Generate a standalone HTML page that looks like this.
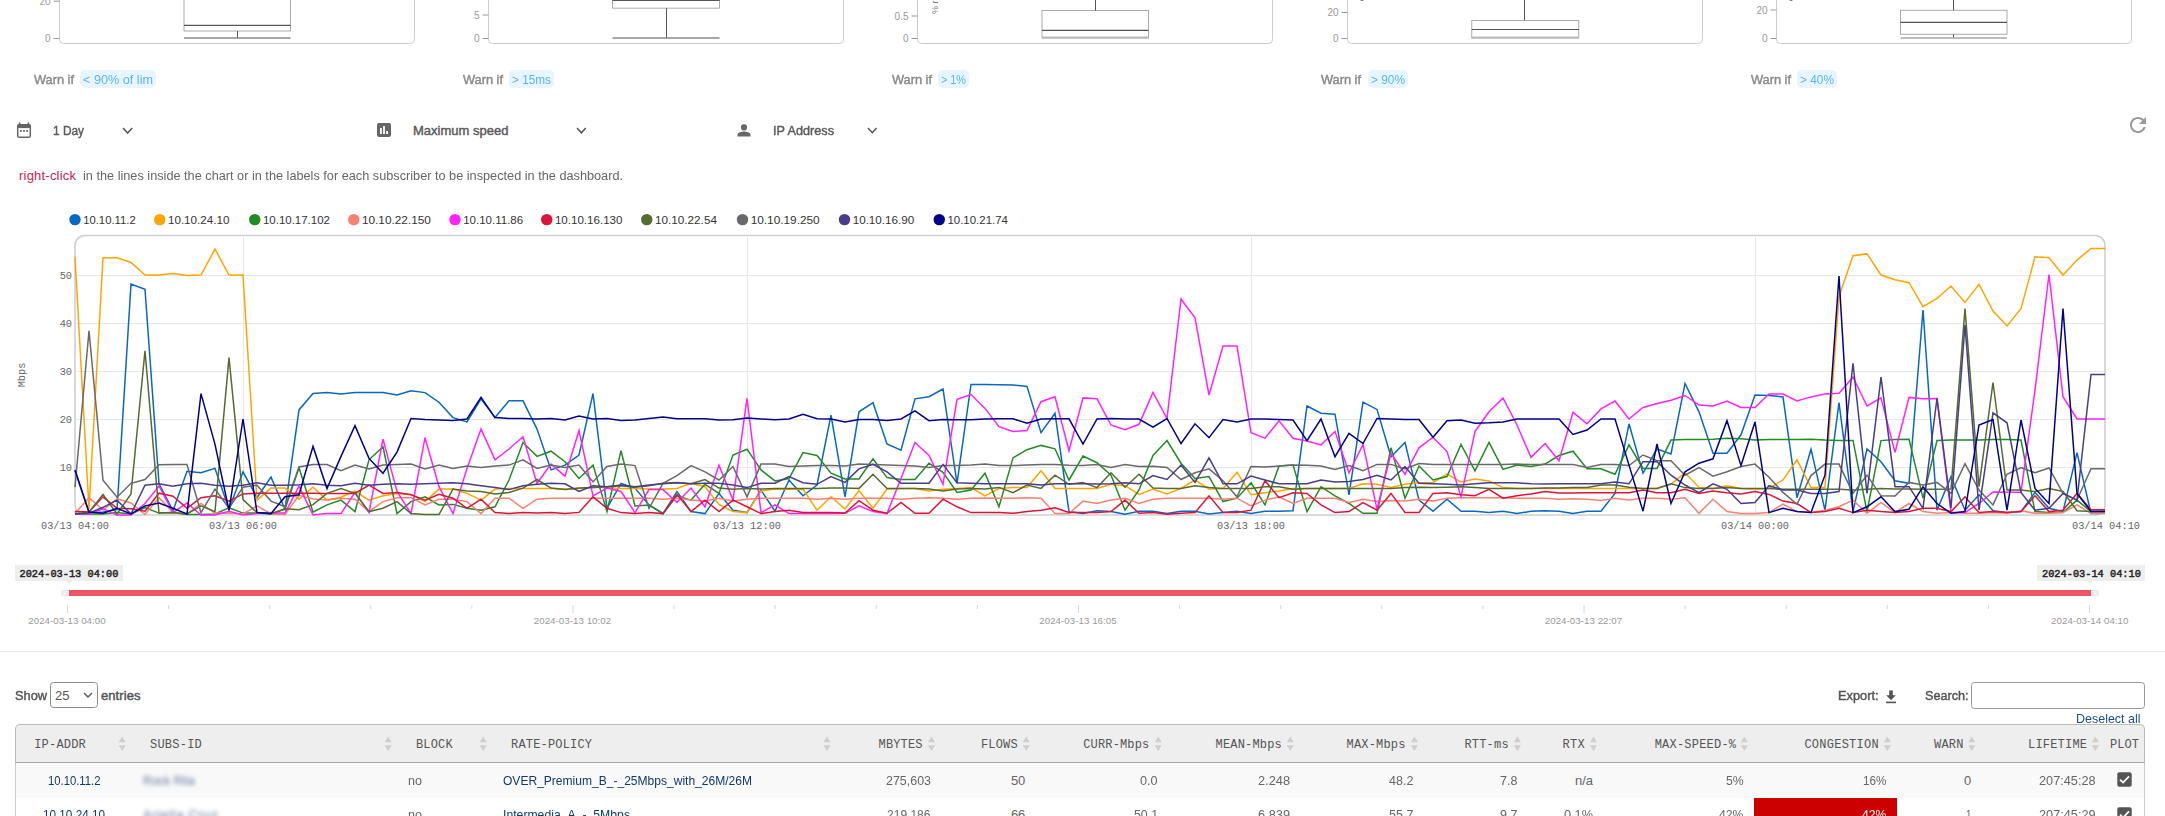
<!DOCTYPE html>
<html lang="en"><head><meta charset="utf-8"><title>Subscribers dashboard</title>
<style>
html,body{margin:0;padding:0;background:#fff;}
body{width:2165px;height:816px;overflow:hidden;position:relative;font-family:"Liberation Sans",sans-serif;font-size:13px;color:#555;}
.t{position:absolute;white-space:nowrap;display:block;transform-origin:0 0;}
.abs{position:absolute;}
svg{position:absolute;overflow:visible;}
.badge{position:absolute;background:#e9f5fe;border-radius:5px;}
.th{position:absolute;}
</style></head><body>

<section id="kpis">
<svg width="2165" height="60" style="left:0;top:0" viewBox="0 0 2165 60">
<path d="M59.5 -2 V39.5 a4 4 0 0 0 4 4 H410.5 a4 4 0 0 0 4 -4 V-2" fill="none" stroke="#ccc" stroke-width="1"/>
<path d="M488.5 -2 V39.5 a4 4 0 0 0 4 4 H839.5 a4 4 0 0 0 4 -4 V-2" fill="none" stroke="#ccc" stroke-width="1"/>
<path d="M917.5 -2 V39.5 a4 4 0 0 0 4 4 H1268.5 a4 4 0 0 0 4 -4 V-2" fill="none" stroke="#ccc" stroke-width="1"/>
<path d="M1347.5 -2 V39.5 a4 4 0 0 0 4 4 H1698.5 a4 4 0 0 0 4 -4 V-2" fill="none" stroke="#ccc" stroke-width="1"/>
<path d="M1776.5 -2 V39.5 a4 4 0 0 0 4 4 H2127.5 a4 4 0 0 0 4 -4 V-2" fill="none" stroke="#ccc" stroke-width="1"/>
<line x1="53.5" x2="59.5" y1="38.5" y2="38.5" stroke="#999" stroke-width="1"/>
<text x="50.5" y="42.0" text-anchor="end" font-size="10" fill="#999" font-family="'Liberation Sans', sans-serif">0</text>
<line x1="53.5" x2="59.5" y1="1.2" y2="1.2" stroke="#999" stroke-width="1"/>
<text x="50.5" y="4.7" text-anchor="end" font-size="10" fill="#999" font-family="'Liberation Sans', sans-serif">20</text>
<line x1="482.5" x2="488.5" y1="38.5" y2="38.5" stroke="#999" stroke-width="1"/>
<text x="479.5" y="42.0" text-anchor="end" font-size="10" fill="#999" font-family="'Liberation Sans', sans-serif">0</text>
<line x1="482.5" x2="488.5" y1="15.0" y2="15.0" stroke="#999" stroke-width="1"/>
<text x="479.5" y="18.5" text-anchor="end" font-size="10" fill="#999" font-family="'Liberation Sans', sans-serif">5</text>
<line x1="911.5" x2="917.5" y1="38.5" y2="38.5" stroke="#999" stroke-width="1"/>
<text x="908.5" y="42.0" text-anchor="end" font-size="10" fill="#999" font-family="'Liberation Sans', sans-serif">0</text>
<line x1="911.5" x2="917.5" y1="16.0" y2="16.0" stroke="#999" stroke-width="1"/>
<text x="908.5" y="19.5" text-anchor="end" font-size="10" fill="#999" font-family="'Liberation Sans', sans-serif">0.5</text>
<line x1="1341.5" x2="1347.5" y1="38.5" y2="38.5" stroke="#999" stroke-width="1"/>
<text x="1338.5" y="42.0" text-anchor="end" font-size="10" fill="#999" font-family="'Liberation Sans', sans-serif">0</text>
<line x1="1341.5" x2="1347.5" y1="12.5" y2="12.5" stroke="#999" stroke-width="1"/>
<text x="1338.5" y="16.0" text-anchor="end" font-size="10" fill="#999" font-family="'Liberation Sans', sans-serif">20</text>
<line x1="1770.5" x2="1776.5" y1="38.5" y2="38.5" stroke="#999" stroke-width="1"/>
<text x="1767.5" y="42.0" text-anchor="end" font-size="10" fill="#999" font-family="'Liberation Sans', sans-serif">0</text>
<line x1="1770.5" x2="1776.5" y1="10.0" y2="10.0" stroke="#999" stroke-width="1"/>
<text x="1767.5" y="13.5" text-anchor="end" font-size="10" fill="#999" font-family="'Liberation Sans', sans-serif">20</text>
<path d="M184 -2 V31 H290.5 V-2" fill="none" stroke="#aaa"/><line x1="184" x2="290.5" y1="25.3" y2="25.3" stroke="#555" stroke-width="1.2"/>
<line x1="237.5" x2="237.5" y1="31" y2="38" stroke="#555"/><line x1="184" x2="290.5" y1="38" y2="38" stroke="#888" stroke-width="1.4"/>
<path d="M612.5 -2 V8.2 H719.5 V-2" fill="none" stroke="#aaa"/><line x1="612.5" x2="719.5" y1="0.4" y2="0.4" stroke="#555" stroke-width="1.2"/>
<line x1="666.5" x2="666.5" y1="8.2" y2="38" stroke="#555"/><line x1="612.5" x2="719.5" y1="38" y2="38" stroke="#888" stroke-width="1.4"/>
<rect x="1042" y="10.5" width="106.5" height="27.5" fill="none" stroke="#aaa"/><line x1="1042" x2="1148.5" y1="30.3" y2="30.3" stroke="#555" stroke-width="1.2"/>
<line x1="1095.5" x2="1095.5" y1="-2" y2="10.5" stroke="#555"/><line x1="1042" x2="1148.5" y1="37.4" y2="37.4" stroke="#bbb" stroke-width="2"/>
<text transform="translate(937.5,14) rotate(-90)" font-size="9" fill="#777" font-family="'Liberation Sans', sans-serif">% r</text>
<rect x="1471.75" y="20.5" width="107" height="17.5" fill="none" stroke="#aaa"/><line x1="1471.75" x2="1578.75" y1="29.5" y2="29.5" stroke="#555" stroke-width="1.2"/>
<line x1="1524.5" x2="1524.5" y1="-2" y2="20.5" stroke="#555"/><line x1="1471.75" x2="1578.75" y1="37.4" y2="37.4" stroke="#bbb" stroke-width="2"/>
<circle cx="1362" cy="-1" r="2" fill="#777"/>
<rect x="1900.5" y="10.3" width="106.5" height="24" fill="none" stroke="#aaa"/><line x1="1900.5" x2="2007" y1="22.4" y2="22.4" stroke="#555" stroke-width="1.2"/>
<line x1="1953.5" x2="1953.5" y1="-2" y2="10.3" stroke="#555"/><line x1="1953.5" x2="1953.5" y1="34.3" y2="38" stroke="#555"/><line x1="1900.5" x2="2007" y1="38" y2="38" stroke="#aaa" stroke-width="1.6"/>
<circle cx="1791" cy="-1" r="2" fill="#777"/>
</svg>
<span class="t" style="left:34.00px;top:72.60px;font-size:13px;line-height:13px;color:#8a8a8a;-webkit-text-stroke:0.45px currentColor;transform:scaleX(0.9831);">Warn if</span>
<span class="badge" style="left:80px;top:69.5px;width:76px;height:18.5px"></span>
<span class="t" style="left:83.00px;top:72.60px;font-size:13px;line-height:13px;color:#5ab4f0;transform:scaleX(0.9737);">&lt; 90% of lim</span>
<span class="t" style="left:463.00px;top:72.60px;font-size:13px;line-height:13px;color:#8a8a8a;-webkit-text-stroke:0.45px currentColor;transform:scaleX(0.9831);">Warn if</span>
<span class="badge" style="left:509px;top:69.5px;width:45px;height:18.5px"></span>
<span class="t" style="left:512.00px;top:72.60px;font-size:13px;line-height:13px;color:#5ab4f0;transform:scaleX(0.9071);">&gt; 15ms</span>
<span class="t" style="left:892.00px;top:72.60px;font-size:13px;line-height:13px;color:#8a8a8a;-webkit-text-stroke:0.45px currentColor;transform:scaleX(0.9831);">Warn if</span>
<span class="badge" style="left:938px;top:69.5px;width:31px;height:18.5px"></span>
<span class="t" style="left:941.00px;top:72.60px;font-size:13px;line-height:13px;color:#5ab4f0;transform:scaleX(0.8335);">&gt; 1%</span>
<span class="t" style="left:1321.30px;top:72.60px;font-size:13px;line-height:13px;color:#8a8a8a;-webkit-text-stroke:0.45px currentColor;transform:scaleX(0.9831);">Warn if</span>
<span class="badge" style="left:1368px;top:69.5px;width:40px;height:18.5px"></span>
<span class="t" style="left:1371.00px;top:72.60px;font-size:13px;line-height:13px;color:#5ab4f0;transform:scaleX(0.9134);">&gt; 90%</span>
<span class="t" style="left:1750.50px;top:72.60px;font-size:13px;line-height:13px;color:#8a8a8a;-webkit-text-stroke:0.45px currentColor;transform:scaleX(0.9831);">Warn if</span>
<span class="badge" style="left:1797px;top:69.5px;width:40px;height:18.5px"></span>
<span class="t" style="left:1800.00px;top:72.60px;font-size:13px;line-height:13px;color:#5ab4f0;transform:scaleX(0.9134);">&gt; 40%</span>
</section>
<section id="toolbar">
<svg width="16" height="17" style="left:16px;top:121.5px" viewBox="0 0 16 17"><path d="M3.6 0.6 v2 M12.4 0.6 v2" stroke="#666" stroke-width="1.6" fill="none"/><rect x="1.7" y="2.7" width="12.6" height="12.6" rx="1.6" fill="none" stroke="#666" stroke-width="1.5"/><rect x="1.7" y="2.7" width="12.6" height="3.4" fill="#666"/><rect x="4" y="8" width="1.8" height="1.8" fill="#666"/><rect x="7.1" y="8" width="1.8" height="1.8" fill="#666"/><rect x="10.2" y="8" width="1.8" height="1.8" fill="#666"/></svg>
<span class="t" style="left:53.00px;top:123.60px;font-size:13px;line-height:13px;color:#5c5c5c;-webkit-text-stroke:0.45px currentColor;transform:scaleX(0.9128);">1 Day</span>
<svg width="11.200000000000003" height="7.060000000000002" style="left:122.2px;top:126.87px" viewBox="-1 -1 11.200000000000003 7.060000000000002"><path d="M0 0 L4.600000000000001 5.060000000000002 L9.200000000000003 0" fill="none" stroke="#555" stroke-width="1.5"/></svg>
<svg width="14" height="14" style="left:377px;top:123px" viewBox="0 0 14 14"><rect x="0" y="0" width="14" height="14" rx="2" fill="#666"/><rect x="3" y="5" width="1.8" height="6" fill="#fff"/><rect x="6.1" y="3" width="1.8" height="8" fill="#fff"/><rect x="9.2" y="8" width="1.8" height="3" fill="#fff"/></svg>
<span class="t" style="left:413.00px;top:123.60px;font-size:13px;line-height:13px;color:#5c5c5c;-webkit-text-stroke:0.45px currentColor;">Maximum speed</span>
<svg width="10.800000000000068" height="6.840000000000038" style="left:575.8px;top:126.97999999999999px" viewBox="-1 -1 10.800000000000068 6.840000000000038"><path d="M0 0 L4.400000000000034 4.840000000000038 L8.800000000000068 0" fill="none" stroke="#555" stroke-width="1.5"/></svg>
<svg width="14" height="13" style="left:736.5px;top:123.5px" viewBox="0 0 14 13"><circle cx="7" cy="3.4" r="3.1" fill="#666"/><path d="M0.5 12.5 v-1.6 c0 -2.2 4.3 -3.3 6.5 -3.3 s6.5 1.1 6.5 3.3 v1.6 z" fill="#666"/></svg>
<span class="t" style="left:773.00px;top:123.60px;font-size:13px;line-height:13px;color:#5c5c5c;-webkit-text-stroke:0.45px currentColor;transform:scaleX(0.9739);">IP Address</span>
<svg width="10.600000000000023" height="6.730000000000013" style="left:866.8px;top:127.035px" viewBox="-1 -1 10.600000000000023 6.730000000000013"><path d="M0 0 L4.300000000000011 4.730000000000013 L8.600000000000023 0" fill="none" stroke="#555" stroke-width="1.5"/></svg>
<svg width="24" height="24" style="left:2126px;top:113px" viewBox="0 0 24 24"><path fill="#999" d="M17.65 6.35C16.2 4.9 14.21 4 12 4c-4.42 0-7.99 3.58-7.99 8s3.57 8 7.99 8c3.73 0 6.84-2.55 7.73-6h-2.08c-.82 2.33-3.04 4-5.65 4-3.31 0-6-2.69-6-6s2.69-6 6-6c1.66 0 3.14.69 4.22 1.78L13 11h7V4l-2.35 2.35z"/></svg>
</section>
<p id="hint" style="margin:0">
<span class="t" style="left:19.00px;top:168.50px;font-size:13px;line-height:13px;color:#c7254e;letter-spacing:0.211px;">right-click</span>
<span class="t" style="left:83.00px;top:168.50px;font-size:13px;line-height:13px;color:#666;transform:scaleX(0.9781);">in the lines inside the chart or in the labels for each subscriber to be inspected in the dashboard.</span>
</p>
<svg id="chart" width="2165" height="330" style="left:0;top:205px" viewBox="0 205 2165 330">
<rect x="75" y="235.5" width="2030" height="279.5" rx="10" ry="10" fill="#fff" stroke="#cfcfcf" stroke-width="1.6"/>
<line x1="76" x2="2104.5" y1="467.5" y2="467.5" stroke="#e6e6e6" stroke-width="1"/>
<line x1="76" x2="2104.5" y1="419.5" y2="419.5" stroke="#e6e6e6" stroke-width="1"/>
<line x1="76" x2="2104.5" y1="371.5" y2="371.5" stroke="#e6e6e6" stroke-width="1"/>
<line x1="76" x2="2104.5" y1="323.5" y2="323.5" stroke="#e6e6e6" stroke-width="1"/>
<line x1="76" x2="2104.5" y1="275.5" y2="275.5" stroke="#e6e6e6" stroke-width="1"/>
<line x1="243.5" x2="243.5" y1="236.5" y2="514" stroke="#e6e6e6" stroke-width="1"/>
<line x1="747.5" x2="747.5" y1="236.5" y2="514" stroke="#e6e6e6" stroke-width="1"/>
<line x1="1251.5" x2="1251.5" y1="236.5" y2="514" stroke="#e6e6e6" stroke-width="1"/>
<line x1="1755.5" x2="1755.5" y1="236.5" y2="514" stroke="#e6e6e6" stroke-width="1"/>
<text x="72" y="471.2" text-anchor="end" font-size="10.3" fill="#666" font-family="'Liberation Mono', monospace">10</text>
<text x="72" y="423.2" text-anchor="end" font-size="10.3" fill="#666" font-family="'Liberation Mono', monospace">20</text>
<text x="72" y="375.2" text-anchor="end" font-size="10.3" fill="#666" font-family="'Liberation Mono', monospace">30</text>
<text x="72" y="327.2" text-anchor="end" font-size="10.3" fill="#666" font-family="'Liberation Mono', monospace">40</text>
<text x="72" y="279.2" text-anchor="end" font-size="10.3" fill="#666" font-family="'Liberation Mono', monospace">50</text>
<text transform="translate(25,375) rotate(-90)" text-anchor="middle" font-size="10.3" fill="#666" font-family="'Liberation Mono', monospace">Mbps</text>
<text x="75" y="529.4" text-anchor="middle" font-size="10.3" fill="#666" font-family="'Liberation Mono', monospace" textLength="68" lengthAdjust="spacing">03/13 04:00</text>
<text x="243" y="529.4" text-anchor="middle" font-size="10.3" fill="#666" font-family="'Liberation Mono', monospace" textLength="68" lengthAdjust="spacing">03/13 06:00</text>
<text x="747" y="529.4" text-anchor="middle" font-size="10.3" fill="#666" font-family="'Liberation Mono', monospace" textLength="68" lengthAdjust="spacing">03/13 12:00</text>
<text x="1251" y="529.4" text-anchor="middle" font-size="10.3" fill="#666" font-family="'Liberation Mono', monospace" textLength="68" lengthAdjust="spacing">03/13 18:00</text>
<text x="1755" y="529.4" text-anchor="middle" font-size="10.3" fill="#666" font-family="'Liberation Mono', monospace" textLength="68" lengthAdjust="spacing">03/14 00:00</text>
<text x="2106" y="529.4" text-anchor="middle" font-size="10.3" fill="#666" font-family="'Liberation Mono', monospace" textLength="68" lengthAdjust="spacing">03/14 04:10</text>
<g fill="none" stroke-width="1.5" stroke-linejoin="miter" stroke-linecap="butt">
<polyline stroke="#0868c4" points="75,470.8 89,512.6 103,512.1 117,509.7 131,284.1 145,289.4 159,483.8 173,510.7 187,471.3 201,472.8 215,468.4 229,509.2 243,471.8 257,497.7 271,477.1 285,509.2 299,409.9 313,393.6 327,392.6 341,394.0 355,392.6 369,392.6 383,392.6 397,395.0 411,390.7 425,392.6 439,402.2 453,417.6 467,421.9 481,398.8 495,417.6 509,400.8 523,400.8 537,429.1 551,469.9 565,465.1 579,455.0 593,393.6 607,508.3 621,483.3 635,488.1 649,504.9 663,513.6 677,491.5 691,511.6 705,513.6 719,493.4 733,510.2 747,512.6 761,490.0 775,511.2 789,480.0 803,495.8 817,485.0 831,415.2 845,496.8 859,411.8 873,402.7 887,444.0 901,450.2 915,398.8 929,396.7 943,389.0 957,483.3 971,384.4 985,384.4 999,384.7 1013,384.9 1027,386.4 1041,432.7 1055,413.2 1069,511.6 1083,513.6 1097,510.7 1111,511.6 1125,514.3 1139,511.2 1153,511.2 1167,513.6 1181,511.2 1195,511.2 1209,514.0 1223,512.6 1237,511.2 1251,513.6 1265,511.2 1279,511.2 1293,510.7 1307,406.0 1321,413.2 1335,414.2 1349,494.8 1363,402.2 1377,409.4 1391,456.7 1405,442.5 1419,500.1 1433,511.2 1447,499.2 1461,511.2 1475,511.2 1489,512.6 1503,511.2 1517,513.6 1531,511.2 1545,510.7 1559,511.2 1573,513.6 1587,511.2 1601,511.2 1615,493.4 1629,423.8 1643,473.2 1657,449.0 1671,454.0 1685,383.5 1699,411.8 1713,453.3 1727,453.3 1741,434.8 1755,395.0 1769,395.5 1783,396.9 1797,497.7 1811,449.2 1825,510.2 1839,402.7 1853,511.6 1867,449.0 1881,461.7 1895,480.7 1909,483.3 1923,310.0 1937,510.2 1951,476.6 1965,510.2 1979,494.8 1993,510.7 2007,512.6 2021,511.6 2035,492.4 2049,508.3 2063,511.6 2077,452.6 2091,513.6 2105,513.6"/>
<polyline stroke="#ffa500" points="75,256.8 89,508.8 103,257.7 117,257.7 131,262.5 145,275.0 159,275.0 173,273.6 187,275.5 201,275.0 215,249.1 229,275.0 243,275.0 257,500.1 271,488.1 285,488.1 299,499.2 313,487.2 327,500.1 341,497.2 355,491.0 369,500.1 383,495.8 397,493.4 411,494.4 425,501.6 439,489.1 453,489.1 467,493.4 481,500.1 495,489.1 509,488.6 523,488.6 537,488.6 551,488.6 565,489.3 579,488.4 593,487.6 607,487.6 621,488.4 635,488.4 649,489.1 663,489.1 677,488.4 691,483.3 705,486.7 719,504.4 733,511.6 747,512.6 761,491.0 775,489.1 789,489.3 803,489.1 817,510.2 831,496.8 845,509.0 859,490.5 873,508.3 887,489.1 901,488.6 915,488.6 929,491.0 943,489.3 957,488.6 971,487.6 985,495.8 999,488.6 1013,487.6 1027,487.6 1041,470.8 1055,488.4 1069,488.4 1083,488.4 1097,488.4 1111,484.3 1125,485.7 1139,494.4 1153,489.1 1167,493.9 1181,488.4 1195,480.0 1209,489.1 1223,488.6 1237,472.3 1251,494.8 1265,492.7 1279,491.0 1293,488.4 1307,488.4 1321,488.4 1335,488.4 1349,488.4 1363,483.8 1377,484.3 1391,487.6 1405,484.3 1419,482.8 1433,482.4 1447,474.2 1461,481.9 1475,479.0 1489,480.9 1503,487.6 1517,488.4 1531,488.4 1545,488.4 1559,488.4 1573,488.4 1587,488.4 1601,488.4 1615,488.4 1629,488.4 1643,488.6 1657,488.4 1671,484.3 1685,472.8 1699,487.4 1713,488.6 1727,485.7 1741,488.4 1755,489.1 1769,488.4 1783,480.0 1797,459.8 1811,487.6 1825,487.6 1839,296.6 1853,255.8 1867,253.9 1881,275.0 1895,279.8 1909,282.7 1923,306.7 1937,298.5 1951,286.0 1965,302.4 1979,284.4 1993,311.0 2007,325.9 2021,308.6 2035,256.8 2049,257.7 2063,275.0 2077,260.1 2091,248.4 2105,248.4"/>
<polyline stroke="#228b22" points="75,514.0 89,514.0 103,514.0 117,512.6 131,514.0 145,507.6 159,513.1 173,512.6 187,514.5 201,514.5 215,514.0 229,507.8 243,513.1 257,513.1 271,514.0 285,509.2 299,467.7 313,512.1 327,504.9 341,500.1 355,511.6 369,459.8 383,446.8 397,513.6 411,501.6 425,496.8 439,504.9 453,504.4 467,508.3 481,510.2 495,506.8 509,480.0 523,442.5 537,456.4 551,451.2 565,461.7 579,478.5 593,465.1 607,511.6 621,450.7 635,505.9 649,504.9 663,513.6 677,495.8 691,500.1 705,484.3 719,493.4 733,455.0 747,449.2 761,469.9 775,480.9 789,478.5 803,452.6 817,455.5 831,473.2 845,479.0 859,479.0 873,458.8 887,477.6 901,479.5 915,479.5 929,463.2 943,472.3 957,492.4 971,490.0 985,473.2 999,506.8 1013,457.9 1027,449.7 1041,445.4 1055,448.8 1069,480.0 1083,456.0 1097,462.7 1111,475.2 1125,510.2 1139,490.0 1153,455.5 1167,440.6 1181,463.2 1195,478.5 1209,476.6 1223,501.6 1237,498.2 1251,482.8 1265,504.9 1279,466.0 1293,465.1 1307,511.6 1321,486.7 1335,495.8 1349,503.5 1363,513.3 1377,513.3 1391,447.8 1405,498.2 1419,466.0 1433,480.0 1447,476.6 1461,444.4 1475,470.8 1489,442.5 1503,469.4 1517,465.1 1531,466.5 1545,464.1 1559,455.5 1573,451.2 1587,468.7 1601,468.7 1615,474.2 1629,444.9 1643,468.4 1657,468.4 1671,440.1 1685,439.6 1699,439.4 1713,439.2 1727,438.2 1741,438.7 1755,440.1 1769,439.6 1783,439.6 1797,439.4 1811,439.2 1825,440.1 1839,440.6 1853,440.4 1867,511.6 1881,440.6 1895,439.4 1909,439.2 1923,498.2 1937,440.6 1951,440.1 1965,440.1 1979,440.1 1993,439.6 2007,439.6 2021,440.1 2035,511.6 2049,512.6 2063,512.6 2077,500.1 2091,511.6 2105,511.6"/>
<polyline stroke="#fa8072" points="75,513.3 89,497.7 103,509.9 117,498.9 131,503.0 145,514.5 159,497.7 173,512.6 187,514.0 201,503.5 215,513.3 229,513.1 243,514.0 257,505.9 271,514.0 285,514.5 299,495.3 313,498.9 327,500.1 341,498.2 355,499.2 369,511.6 383,501.6 397,497.7 411,497.7 425,504.9 439,499.2 453,499.2 467,501.6 481,513.6 495,498.2 509,498.2 523,508.3 537,499.2 551,498.2 565,498.2 579,498.2 593,498.2 607,498.2 621,498.2 635,498.2 649,498.2 663,499.2 677,498.2 691,500.1 705,501.1 719,498.2 733,501.1 747,499.2 761,498.2 775,498.2 789,498.2 803,498.2 817,499.2 831,498.2 845,499.2 859,498.2 873,498.2 887,498.2 901,499.2 915,498.2 929,497.7 943,498.2 957,499.2 971,498.2 985,498.0 999,498.2 1013,498.2 1027,497.7 1041,498.2 1055,513.6 1069,513.6 1083,501.1 1097,503.5 1111,500.1 1125,498.2 1139,503.5 1153,499.2 1167,498.2 1181,498.2 1195,498.2 1209,498.2 1223,499.2 1237,498.2 1251,505.9 1265,500.1 1279,496.8 1293,503.5 1307,498.2 1321,498.2 1335,498.2 1349,502.5 1363,499.2 1377,501.6 1391,500.4 1405,501.1 1419,499.2 1433,501.1 1447,498.2 1461,497.7 1475,497.7 1489,497.7 1503,497.7 1517,498.2 1531,498.2 1545,498.2 1559,499.2 1573,498.7 1587,499.2 1601,500.6 1615,498.2 1629,500.1 1643,498.2 1657,498.2 1671,499.2 1685,497.7 1699,513.3 1713,499.2 1727,511.6 1741,513.6 1755,513.6 1769,512.6 1783,504.0 1797,511.6 1811,512.6 1825,510.2 1839,506.8 1853,500.1 1867,513.3 1881,502.5 1895,512.6 1909,503.5 1923,511.6 1937,513.3 1951,512.6 1965,513.3 1979,513.3 1993,512.6 2007,513.3 2021,510.7 2035,513.3 2049,513.3 2063,512.6 2077,504.9 2091,513.3 2105,513.3"/>
<polyline stroke="#ff22ff" points="75,514.0 89,514.0 103,508.8 117,515.0 131,515.0 145,503.5 159,486.0 173,512.6 187,503.0 201,515.0 215,515.0 229,511.2 243,515.0 257,513.6 271,513.1 285,513.1 299,486.2 313,515.0 327,513.6 341,513.6 355,492.4 369,512.6 383,439.2 397,491.5 411,513.6 425,437.7 439,486.7 453,513.6 467,468.4 481,429.1 495,459.8 509,449.0 523,436.8 537,483.3 551,464.1 565,476.1 579,430.5 593,495.8 607,488.1 621,491.5 635,512.6 649,489.6 663,489.6 677,502.5 691,488.1 705,506.8 719,465.1 733,500.1 747,398.4 761,512.6 775,504.9 789,513.6 803,513.6 817,513.6 831,513.6 845,513.3 859,505.9 873,511.6 887,513.6 901,478.5 915,442.5 929,455.5 943,484.3 957,399.3 971,394.5 985,408.4 999,426.7 1013,431.5 1027,430.5 1041,401.7 1055,396.7 1069,450.7 1083,397.9 1097,398.8 1111,425.0 1125,429.6 1139,424.3 1153,392.4 1167,418.5 1181,299.0 1195,317.7 1209,395.0 1223,346.0 1237,346.0 1251,432.7 1265,438.2 1279,420.9 1293,438.2 1307,441.1 1321,444.9 1335,431.5 1349,472.8 1363,444.4 1377,509.2 1391,453.3 1405,474.2 1419,447.8 1433,437.2 1447,451.6 1461,496.8 1475,431.5 1489,411.8 1503,397.9 1517,425.0 1531,457.4 1545,443.5 1559,460.8 1573,412.3 1587,423.8 1601,408.9 1615,401.0 1629,419.0 1643,407.5 1657,403.6 1671,400.3 1685,395.5 1699,405.1 1713,406.0 1727,401.0 1741,407.5 1755,407.5 1769,394.0 1783,394.0 1797,401.0 1811,396.9 1825,394.0 1839,393.3 1853,377.2 1867,406.0 1881,397.9 1895,452.4 1909,397.4 1923,398.8 1937,398.4 1951,512.6 1965,512.6 1979,503.5 1993,492.0 2007,492.2 2021,492.2 2035,390.2 2049,274.5 2063,396.7 2077,419.0 2091,419.0 2105,419.0"/>
<polyline stroke="#dc143c" points="75,511.6 89,511.8 103,496.8 117,508.3 131,508.8 145,511.2 159,493.2 173,496.3 187,508.3 201,497.7 215,495.8 229,501.1 243,493.9 257,493.2 271,493.2 285,493.2 299,493.2 313,493.2 327,493.4 341,493.4 355,493.4 369,485.2 383,493.4 397,492.4 411,494.8 425,500.1 439,494.4 453,498.2 467,508.3 481,499.2 495,512.6 509,513.6 523,512.6 537,513.1 551,512.6 565,513.6 579,512.4 593,496.8 607,508.3 621,512.6 635,513.6 649,512.6 663,513.6 677,494.4 691,511.6 705,500.1 719,511.6 733,500.1 747,506.8 761,513.6 775,511.6 789,510.2 803,512.6 817,512.6 831,512.4 845,513.1 859,500.6 873,510.2 887,513.3 901,502.5 915,513.3 929,513.3 943,499.2 957,506.8 971,512.6 985,512.4 999,512.6 1013,513.3 1027,511.6 1041,510.2 1055,507.8 1069,512.4 1083,512.4 1097,512.4 1111,511.6 1125,500.1 1139,513.3 1153,512.6 1167,514.3 1181,513.3 1195,512.6 1209,495.8 1223,512.6 1237,512.6 1251,510.2 1265,480.7 1279,497.7 1293,492.7 1307,493.4 1321,504.9 1335,512.6 1349,511.6 1363,502.5 1377,510.2 1391,493.4 1405,512.4 1419,512.4 1433,493.4 1447,492.7 1461,494.8 1475,495.8 1489,489.3 1503,498.2 1517,495.8 1531,493.9 1545,491.5 1559,492.9 1573,492.9 1587,492.7 1601,492.7 1615,492.7 1629,492.7 1643,490.0 1657,492.7 1671,492.7 1685,489.3 1699,493.4 1713,491.0 1727,492.7 1741,493.9 1755,491.5 1769,494.4 1783,501.1 1797,503.5 1811,512.6 1825,511.6 1839,508.3 1853,512.6 1867,510.2 1881,511.6 1895,512.4 1909,511.6 1923,508.3 1937,508.3 1951,511.6 1965,496.8 1979,512.6 1993,511.6 2007,512.6 2021,511.6 2035,495.8 2049,511.6 2063,510.2 2077,493.4 2091,509.7 2105,509.7"/>
<polyline stroke="#556b2f" points="75,514.0 89,512.1 103,494.4 117,514.0 131,493.9 145,350.8 159,513.1 173,512.6 187,514.0 201,505.9 215,511.6 229,357.6 243,499.6 257,512.6 271,513.6 285,508.8 299,509.7 313,504.7 327,493.4 341,488.6 355,493.4 369,511.6 383,508.3 397,501.6 411,513.6 425,514.5 439,514.5 453,489.1 467,491.0 481,491.5 495,493.9 509,492.4 523,488.1 537,479.5 551,488.1 565,489.6 579,488.1 593,487.6 607,486.7 621,485.7 635,487.2 649,485.7 663,483.3 677,482.4 691,483.8 705,479.5 719,488.1 733,489.3 747,488.6 761,489.1 775,488.4 789,488.6 803,488.4 817,488.4 831,488.1 845,488.1 859,488.4 873,474.2 887,488.6 901,488.4 915,488.4 929,489.1 943,491.0 957,489.1 971,488.4 985,489.1 999,487.4 1013,492.7 1027,485.0 1041,488.4 1055,475.2 1069,484.3 1083,482.4 1097,487.6 1111,472.8 1125,487.2 1139,474.2 1153,488.1 1167,488.4 1181,488.6 1195,485.7 1209,487.6 1223,488.4 1237,488.4 1251,488.4 1265,486.7 1279,486.7 1293,489.3 1307,488.6 1321,488.4 1335,488.4 1349,488.4 1363,488.4 1377,488.4 1391,488.4 1405,487.6 1419,487.2 1433,487.6 1447,487.2 1461,486.7 1475,487.6 1489,488.4 1503,488.4 1517,488.4 1531,488.4 1545,488.1 1559,488.1 1573,487.4 1587,487.6 1601,485.0 1615,485.0 1629,487.2 1643,488.4 1657,488.4 1671,483.8 1685,487.6 1699,488.4 1713,488.4 1727,487.6 1741,488.4 1755,488.6 1769,488.6 1783,489.3 1797,489.3 1811,489.3 1825,489.3 1839,489.3 1853,490.0 1867,489.3 1881,488.4 1895,489.1 1909,489.1 1923,489.3 1937,489.3 1951,489.1 1965,308.6 1979,486.7 1993,382.5 2007,490.0 2021,490.0 2035,491.5 2049,488.4 2063,491.5 2077,510.7 2091,511.6 2105,511.6"/>
<polyline stroke="#696969" points="75,487.2 89,330.7 103,480.2 117,497.2 131,483.3 145,479.5 159,464.8 173,464.6 187,464.6 201,512.6 215,489.1 229,508.3 243,487.2 257,485.2 271,501.1 285,506.8 299,467.0 313,464.6 327,464.6 341,470.8 355,465.1 369,468.9 383,465.1 397,464.6 411,464.1 425,468.9 439,465.1 453,468.4 467,466.0 481,467.5 495,466.0 509,465.1 523,459.8 537,468.4 551,465.1 565,467.5 579,465.1 593,481.9 607,466.5 621,464.1 635,465.6 649,508.3 663,483.3 677,475.6 691,465.6 705,471.8 719,480.0 733,466.5 747,496.8 761,464.1 775,464.1 789,466.5 803,466.0 817,465.6 831,465.6 845,466.0 859,464.1 873,464.4 887,465.1 901,465.6 915,466.0 929,467.5 943,465.6 957,465.6 971,465.1 985,464.1 999,465.6 1013,465.6 1027,465.1 1041,464.6 1055,464.6 1069,465.3 1083,465.6 1097,464.6 1111,467.5 1125,464.6 1139,466.5 1153,466.3 1167,467.5 1181,479.5 1195,472.8 1209,468.9 1223,480.7 1237,496.8 1251,466.5 1265,467.0 1279,466.0 1293,465.1 1307,465.3 1321,466.0 1335,469.4 1349,465.6 1363,470.8 1377,464.4 1391,464.4 1405,468.9 1419,463.6 1433,464.6 1447,464.6 1461,464.6 1475,464.6 1489,464.6 1503,464.6 1517,464.1 1531,464.6 1545,464.6 1559,464.6 1573,464.6 1587,467.5 1601,464.4 1615,464.4 1629,465.6 1643,455.0 1657,460.8 1671,460.8 1685,475.2 1699,467.5 1713,476.1 1727,471.8 1741,466.5 1755,464.1 1769,477.3 1783,492.4 1797,504.4 1811,475.6 1825,464.1 1839,464.1 1853,493.4 1867,475.2 1881,495.8 1895,496.0 1909,482.4 1923,485.0 1937,482.4 1951,493.4 1965,463.6 1979,490.0 1993,504.9 2007,474.2 2021,467.5 2035,472.8 2049,468.0 2063,493.4 2077,500.1 2091,468.7 2105,468.7"/>
<polyline stroke="#483d8b" points="75,514.0 89,513.1 103,507.3 117,500.1 131,514.0 145,485.2 159,483.8 173,486.2 187,483.8 201,483.3 215,485.2 229,486.2 243,485.2 257,482.8 271,485.2 285,485.2 299,484.8 313,483.8 327,485.2 341,485.7 355,483.3 369,485.2 383,484.3 397,483.8 411,484.3 425,483.8 439,483.3 453,482.8 467,483.8 481,485.7 495,487.6 509,489.6 523,485.7 537,484.3 551,483.3 565,483.8 579,491.5 593,485.7 607,486.7 621,485.0 635,486.7 649,485.0 663,483.8 677,482.8 691,483.8 705,483.3 719,483.3 733,485.0 747,487.6 761,483.3 775,483.3 789,476.6 803,482.8 817,484.3 831,476.6 845,482.4 859,468.9 873,464.4 887,471.8 901,483.3 915,483.3 929,483.3 943,464.4 957,482.8 971,483.3 985,483.8 999,483.8 1013,483.8 1027,483.8 1041,485.0 1055,483.8 1069,483.8 1083,483.8 1097,484.0 1111,483.8 1125,482.8 1139,483.8 1153,475.6 1167,479.5 1181,465.1 1195,482.4 1209,457.9 1223,483.8 1237,483.8 1251,476.1 1265,480.0 1279,483.8 1293,483.8 1307,483.8 1321,480.0 1335,481.9 1349,481.4 1363,479.5 1377,475.2 1391,480.0 1405,466.5 1419,483.3 1433,483.8 1447,484.3 1461,485.0 1475,483.8 1489,482.8 1503,482.8 1517,482.8 1531,483.8 1545,484.0 1559,483.8 1573,483.8 1587,483.8 1601,483.8 1615,481.9 1629,483.8 1643,461.7 1657,461.7 1671,475.2 1685,485.0 1699,492.7 1713,483.8 1727,489.3 1741,503.5 1755,502.5 1769,485.7 1783,490.0 1797,490.0 1811,493.4 1825,493.4 1839,491.5 1853,363.3 1867,493.4 1881,377.2 1895,486.7 1909,486.7 1923,508.3 1937,398.4 1951,508.3 1965,324.9 1979,510.2 1993,412.8 2007,422.8 2021,492.4 2035,510.2 2049,508.3 2063,493.4 2077,500.1 2091,374.4 2105,374.4"/>
<polyline stroke="#00008b" points="75,469.9 89,512.1 103,513.3 117,508.3 131,514.0 145,505.9 159,503.0 173,508.3 187,514.0 201,393.6 215,444.4 229,510.4 243,419.0 257,512.6 271,513.6 285,496.8 299,494.8 313,446.4 327,488.6 341,456.4 355,425.7 369,458.4 383,473.2 397,452.1 411,418.5 425,419.5 439,420.0 453,420.4 467,419.0 481,397.4 495,417.6 509,418.5 523,418.5 537,419.0 551,418.5 565,420.0 579,416.1 593,419.0 607,418.5 621,420.4 635,420.0 649,418.5 663,417.1 677,418.8 691,418.8 705,418.8 719,420.0 733,419.7 747,418.0 761,419.0 775,419.7 789,419.0 803,414.2 817,418.8 831,419.0 845,421.9 859,419.5 873,419.5 887,420.4 901,419.0 915,410.8 929,420.7 943,419.5 957,419.7 971,419.7 985,419.0 999,418.8 1013,418.8 1027,423.3 1041,419.0 1055,418.8 1069,418.8 1083,444.0 1097,419.0 1111,418.5 1125,419.0 1139,419.0 1153,427.2 1167,418.5 1181,443.5 1195,423.8 1209,437.7 1223,419.5 1237,421.9 1251,419.0 1265,419.0 1279,419.5 1293,420.0 1307,440.6 1321,419.0 1335,456.7 1349,433.4 1363,443.5 1377,418.5 1391,419.0 1405,419.5 1419,419.5 1433,437.2 1447,420.7 1461,420.0 1475,423.3 1489,422.8 1503,421.9 1517,419.0 1531,419.0 1545,419.0 1559,419.0 1573,434.4 1587,430.0 1601,419.0 1615,419.0 1629,465.1 1643,511.2 1657,444.0 1671,503.5 1685,471.8 1699,463.2 1713,458.8 1727,420.7 1741,465.6 1755,421.9 1769,512.6 1783,508.3 1797,511.6 1811,512.4 1825,475.2 1839,276.0 1853,512.6 1867,506.8 1881,496.8 1895,511.6 1909,509.2 1923,486.7 1937,503.5 1951,513.3 1965,511.6 1979,425.0 1993,419.5 2007,510.2 2021,420.0 2035,488.4 2049,503.5 2063,308.6 2077,493.4 2091,511.4 2105,511.4"/>
</g>
<circle cx="75" cy="219.6" r="5.7" fill="#0868c4"/>
<text x="83.2" y="223.8" font-size="11.6" fill="#333" font-family="'Liberation Sans', sans-serif" textLength="52.5" lengthAdjust="spacingAndGlyphs">10.10.11.2</text>
<circle cx="159.75" cy="219.6" r="5.7" fill="#ffa500"/>
<text x="167.95" y="223.8" font-size="11.6" fill="#333" font-family="'Liberation Sans', sans-serif" textLength="61.5" lengthAdjust="spacingAndGlyphs">10.10.24.10</text>
<circle cx="254.75" cy="219.6" r="5.7" fill="#228b22"/>
<text x="262.95" y="223.8" font-size="11.6" fill="#333" font-family="'Liberation Sans', sans-serif" textLength="67" lengthAdjust="spacingAndGlyphs">10.10.17.102</text>
<circle cx="353.75" cy="219.6" r="5.7" fill="#fa8072"/>
<text x="361.95" y="223.8" font-size="11.6" fill="#333" font-family="'Liberation Sans', sans-serif" textLength="69" lengthAdjust="spacingAndGlyphs">10.10.22.150</text>
<circle cx="455" cy="219.6" r="5.7" fill="#ff22ff"/>
<text x="463.2" y="223.8" font-size="11.6" fill="#333" font-family="'Liberation Sans', sans-serif" textLength="60" lengthAdjust="spacingAndGlyphs">10.10.11.86</text>
<circle cx="546.75" cy="219.6" r="5.7" fill="#dc143c"/>
<text x="554.95" y="223.8" font-size="11.6" fill="#333" font-family="'Liberation Sans', sans-serif" textLength="67.5" lengthAdjust="spacingAndGlyphs">10.10.16.130</text>
<circle cx="646.75" cy="219.6" r="5.7" fill="#556b2f"/>
<text x="654.95" y="223.8" font-size="11.6" fill="#333" font-family="'Liberation Sans', sans-serif" textLength="62" lengthAdjust="spacingAndGlyphs">10.10.22.54</text>
<circle cx="742.5" cy="219.6" r="5.7" fill="#696969"/>
<text x="750.7" y="223.8" font-size="11.6" fill="#333" font-family="'Liberation Sans', sans-serif" textLength="69" lengthAdjust="spacingAndGlyphs">10.10.19.250</text>
<circle cx="844.5" cy="219.6" r="5.7" fill="#483d8b"/>
<text x="852.7" y="223.8" font-size="11.6" fill="#333" font-family="'Liberation Sans', sans-serif" textLength="61.5" lengthAdjust="spacingAndGlyphs">10.10.16.90</text>
<circle cx="939.25" cy="219.6" r="5.7" fill="#00008b"/>
<text x="947.45" y="223.8" font-size="11.6" fill="#333" font-family="'Liberation Sans', sans-serif" textLength="60.5" lengthAdjust="spacingAndGlyphs">10.10.21.74</text>
</svg>
<section id="slider">
<span class="abs" style="left:15px;top:565px;width:108px;height:16px;background:#eee"></span>
<span class="abs" style="left:66px;top:581px;width:0;height:0;border:3px solid transparent;border-top-color:#eee;border-bottom:none"></span>
<span class="t" style="left:19.50px;top:569.41px;font-size:10.3px;line-height:10.3px;color:#222;font-family:'Liberation Mono', monospace;-webkit-text-stroke:0.45px currentColor;">2024-03-13 04:00</span>
<span class="abs" style="left:2037px;top:565px;width:108px;height:16px;background:#eee"></span>
<span class="abs" style="left:2087px;top:581px;width:0;height:0;border:3px solid transparent;border-top-color:#eee;border-bottom:none"></span>
<span class="t" style="left:2042.00px;top:569.41px;font-size:10.3px;line-height:10.3px;color:#222;font-family:'Liberation Mono', monospace;-webkit-text-stroke:0.45px currentColor;">2024-03-14 04:10</span>
<span class="abs" style="left:61px;top:590px;width:2038px;height:6px;background:#eee"></span>
<span class="abs" style="left:69px;top:590px;width:2022px;height:6px;background:#ed5565"></span>
<svg width="2165" height="12" style="left:0;top:604px" viewBox="0 604 2165 12">
<line x1="67.5" x2="67.5" y1="605" y2="613" stroke="#d8d8d8" stroke-width="1"/>
<line x1="168.6" x2="168.6" y1="605" y2="609" stroke="#d8d8d8" stroke-width="1"/>
<line x1="269.7" x2="269.7" y1="605" y2="609" stroke="#d8d8d8" stroke-width="1"/>
<line x1="370.8" x2="370.8" y1="605" y2="609" stroke="#d8d8d8" stroke-width="1"/>
<line x1="471.9" x2="471.9" y1="605" y2="609" stroke="#d8d8d8" stroke-width="1"/>
<line x1="573.0" x2="573.0" y1="605" y2="613" stroke="#d8d8d8" stroke-width="1"/>
<line x1="674.1" x2="674.1" y1="605" y2="609" stroke="#d8d8d8" stroke-width="1"/>
<line x1="775.2" x2="775.2" y1="605" y2="609" stroke="#d8d8d8" stroke-width="1"/>
<line x1="876.3" x2="876.3" y1="605" y2="609" stroke="#d8d8d8" stroke-width="1"/>
<line x1="977.4" x2="977.4" y1="605" y2="609" stroke="#d8d8d8" stroke-width="1"/>
<line x1="1078.5" x2="1078.5" y1="605" y2="613" stroke="#d8d8d8" stroke-width="1"/>
<line x1="1179.6" x2="1179.6" y1="605" y2="609" stroke="#d8d8d8" stroke-width="1"/>
<line x1="1280.7" x2="1280.7" y1="605" y2="609" stroke="#d8d8d8" stroke-width="1"/>
<line x1="1381.8" x2="1381.8" y1="605" y2="609" stroke="#d8d8d8" stroke-width="1"/>
<line x1="1482.9" x2="1482.9" y1="605" y2="609" stroke="#d8d8d8" stroke-width="1"/>
<line x1="1584.0" x2="1584.0" y1="605" y2="613" stroke="#d8d8d8" stroke-width="1"/>
<line x1="1685.1" x2="1685.1" y1="605" y2="609" stroke="#d8d8d8" stroke-width="1"/>
<line x1="1786.2" x2="1786.2" y1="605" y2="609" stroke="#d8d8d8" stroke-width="1"/>
<line x1="1887.3" x2="1887.3" y1="605" y2="609" stroke="#d8d8d8" stroke-width="1"/>
<line x1="1988.4" x2="1988.4" y1="605" y2="609" stroke="#d8d8d8" stroke-width="1"/>
<line x1="2089.5" x2="2089.5" y1="605" y2="613" stroke="#d8d8d8" stroke-width="1"/>
</svg>
<span class="t" style="left:28.25px;top:616.09px;font-size:9.7px;line-height:9.7px;color:#999;letter-spacing:0.061px;">2024-03-13 04:00</span>
<span class="t" style="left:533.75px;top:616.09px;font-size:9.7px;line-height:9.7px;color:#999;letter-spacing:0.061px;">2024-03-13 10:02</span>
<span class="t" style="left:1039.25px;top:616.09px;font-size:9.7px;line-height:9.7px;color:#999;letter-spacing:0.061px;">2024-03-13 16:05</span>
<span class="t" style="left:1544.75px;top:616.09px;font-size:9.7px;line-height:9.7px;color:#999;letter-spacing:0.061px;">2024-03-13 22:07</span>
<span class="t" style="left:2051.05px;top:616.09px;font-size:9.7px;line-height:9.7px;color:#999;letter-spacing:0.061px;">2024-03-14 04:10</span>
</section>
<span class="abs" style="left:0;top:651px;width:2165px;height:1px;background:#e7e7e7"></span>
<section id="datatable">
<span class="t" style="left:15.00px;top:689.20px;font-size:13px;line-height:13px;color:#555;-webkit-text-stroke:0.45px currentColor;transform:scaleX(0.9840);">Show</span>
<span class="abs" style="left:50px;top:682px;width:46px;height:24px;border:1px solid #8a8a8a;border-radius:3.5px;background:#fff"></span>
<span class="t" style="left:55.00px;top:689.20px;font-size:13px;line-height:13px;color:#555;letter-spacing:0.040px;">25</span>
<svg width="10" height="7" style="left:83px;top:692px" viewBox="-1 -1 10 7"><path d="M0 0 L4 4 L8 0" fill="none" stroke="#555" stroke-width="1.4"/></svg>
<span class="t" style="left:101.00px;top:689.20px;font-size:13px;line-height:13px;color:#555;-webkit-text-stroke:0.45px currentColor;letter-spacing:0.080px;">entries</span>
<span class="t" style="left:1838.00px;top:689.20px;font-size:13px;line-height:13px;color:#555;-webkit-text-stroke:0.45px currentColor;transform:scaleX(0.9834);">Export:</span>
<svg width="12" height="14" style="left:1885px;top:689.5px" viewBox="0 0 12 14"><path d="M4.2 0.5 h3.6 v4.8 h3 L6 10.3 L1.2 5.3 h3 z" fill="#555"/><rect x="1" y="11.6" width="10" height="1.6" fill="#555"/></svg>
<span class="t" style="left:1924.60px;top:689.20px;font-size:13px;line-height:13px;color:#555;-webkit-text-stroke:0.45px currentColor;transform:scaleX(0.9709);">Search:</span>
<span class="abs" style="left:1971px;top:682px;width:172px;height:25px;border:1px solid #999;border-radius:3.5px;background:#fff"></span>
<span class="t" style="left:2075.60px;top:712.30px;font-size:13px;line-height:13px;color:#1f4e8c;transform:scaleX(0.9599);">Deselect all</span>
<div class="abs" style="left:15px;top:724px;width:2128px;height:37px;background:#eee;border:1px solid #bbb;border-bottom:1px solid #a8a8a8;border-radius:5px 5px 0 0"></div>
<div class="abs" style="left:15px;top:763px;width:2128px;height:60px;border-left:1px solid #ccc;border-right:1px solid #ccc;"></div>
<div class="abs" style="left:16px;top:763px;width:2128px;height:35px;background:#f9f9f9"></div>
<svg width="2165" height="40" style="left:0;top:724px" viewBox="0 724 2165 40">
<path d="M118.60000000000001 742.3 L122.2 736.5 L125.8 742.3 z M118.60000000000001 745.2 L122.2 751 L125.8 745.2 z" fill="#cfcfcf"/>
<path d="M384.5 742.3 L388.1 736.5 L391.70000000000005 742.3 z M384.5 745.2 L388.1 751 L391.70000000000005 745.2 z" fill="#cfcfcf"/>
<path d="M479.59999999999997 742.3 L483.2 736.5 L486.8 742.3 z M479.59999999999997 745.2 L483.2 751 L486.8 745.2 z" fill="#cfcfcf"/>
<path d="M823.4 742.3 L827 736.5 L830.6 742.3 z M823.4 745.2 L827 751 L830.6 745.2 z" fill="#cfcfcf"/>
<path d="M927.9 742.3 L931.5 736.5 L935.1 742.3 z M927.9 745.2 L931.5 751 L935.1 745.2 z" fill="#cfcfcf"/>
<path d="M1022.6999999999999 742.3 L1026.3 736.5 L1029.8999999999999 742.3 z M1022.6999999999999 745.2 L1026.3 751 L1029.8999999999999 745.2 z" fill="#cfcfcf"/>
<path d="M1154.7 742.3 L1158.3 736.5 L1161.8999999999999 742.3 z M1154.7 745.2 L1158.3 751 L1161.8999999999999 745.2 z" fill="#cfcfcf"/>
<path d="M1286.7 742.3 L1290.3 736.5 L1293.8999999999999 742.3 z M1286.7 745.2 L1290.3 751 L1293.8999999999999 745.2 z" fill="#cfcfcf"/>
<path d="M1410.8000000000002 742.3 L1414.4 736.5 L1418.0 742.3 z M1410.8000000000002 745.2 L1414.4 751 L1418.0 745.2 z" fill="#cfcfcf"/>
<path d="M1513.8000000000002 742.3 L1517.4 736.5 L1521.0 742.3 z M1513.8000000000002 745.2 L1517.4 751 L1521.0 745.2 z" fill="#cfcfcf"/>
<path d="M1589.8000000000002 742.3 L1593.4 736.5 L1597.0 742.3 z M1589.8000000000002 745.2 L1593.4 751 L1597.0 745.2 z" fill="#cfcfcf"/>
<path d="M1740.8000000000002 742.3 L1744.4 736.5 L1748.0 742.3 z M1740.8000000000002 745.2 L1744.4 751 L1748.0 745.2 z" fill="#cfcfcf"/>
<path d="M1883.8000000000002 742.3 L1887.4 736.5 L1891.0 742.3 z M1883.8000000000002 745.2 L1887.4 751 L1891.0 745.2 z" fill="#cfcfcf"/>
<path d="M1968.2 742.3 L1971.8 736.5 L1975.3999999999999 742.3 z M1968.2 745.2 L1971.8 751 L1975.3999999999999 745.2 z" fill="#cfcfcf"/>
<path d="M2091.8 742.3 L2095.4 736.5 L2099.0 742.3 z M2091.8 745.2 L2095.4 751 L2099.0 745.2 z" fill="#cfcfcf"/>
</svg>
<span class="t" style="left:34.20px;top:739.10px;font-size:12px;line-height:12px;color:#555;font-family:'Liberation Mono', monospace;letter-spacing:0.199px;">IP-ADDR</span>
<span class="t" style="left:150.00px;top:739.10px;font-size:12px;line-height:12px;color:#555;font-family:'Liberation Mono', monospace;letter-spacing:0.232px;">SUBS-ID</span>
<span class="t" style="left:416.00px;top:739.10px;font-size:12px;line-height:12px;color:#555;font-family:'Liberation Mono', monospace;letter-spacing:0.149px;">BLOCK</span>
<span class="t" style="left:511.10px;top:739.10px;font-size:12px;line-height:12px;color:#555;font-family:'Liberation Mono', monospace;letter-spacing:0.169px;">RATE-POLICY</span>
<span class="t" style="left:878.60px;top:739.10px;font-size:12px;line-height:12px;color:#555;font-family:'Liberation Mono', monospace;letter-spacing:0.139px;">MBYTES</span>
<span class="t" style="left:981.00px;top:739.10px;font-size:12px;line-height:12px;color:#555;font-family:'Liberation Mono', monospace;letter-spacing:0.149px;">FLOWS</span>
<span class="t" style="left:1083.20px;top:739.10px;font-size:12px;line-height:12px;color:#555;font-family:'Liberation Mono', monospace;letter-spacing:0.161px;">CURR-Mbps</span>
<span class="t" style="left:1215.50px;top:739.10px;font-size:12px;line-height:12px;color:#555;font-family:'Liberation Mono', monospace;letter-spacing:0.174px;">MEAN-Mbps</span>
<span class="t" style="left:1346.50px;top:739.10px;font-size:12px;line-height:12px;color:#555;font-family:'Liberation Mono', monospace;letter-spacing:0.184px;">MAX-Mbps</span>
<span class="t" style="left:1464.40px;top:739.10px;font-size:12px;line-height:12px;color:#555;font-family:'Liberation Mono', monospace;letter-spacing:0.199px;">RTT-ms</span>
<span class="t" style="left:1562.60px;top:739.10px;font-size:12px;line-height:12px;color:#555;font-family:'Liberation Mono', monospace;letter-spacing:0.248px;">RTX</span>
<span class="t" style="left:1654.70px;top:739.10px;font-size:12px;line-height:12px;color:#555;font-family:'Liberation Mono', monospace;letter-spacing:0.209px;">MAX-SPEED-%</span>
<span class="t" style="left:1804.40px;top:739.10px;font-size:12px;line-height:12px;color:#555;font-family:'Liberation Mono', monospace;letter-spacing:0.254px;">CONGESTION</span>
<span class="t" style="left:1934.00px;top:739.10px;font-size:12px;line-height:12px;color:#555;font-family:'Liberation Mono', monospace;letter-spacing:0.199px;">WARN</span>
<span class="t" style="left:2028.00px;top:739.10px;font-size:12px;line-height:12px;color:#555;font-family:'Liberation Mono', monospace;letter-spacing:0.199px;">LIFETIME</span>
<span class="t" style="left:2110.00px;top:739.10px;font-size:12px;line-height:12px;color:#555;font-family:'Liberation Mono', monospace;letter-spacing:0.065px;">PLOT</span>
<span class="t" style="left:48.00px;top:774.40px;font-size:13px;line-height:13px;color:#12396e;transform:scaleX(0.8680);">10.10.11.2</span>
<span class="t" style="left:143.00px;top:774.40px;font-size:13px;line-height:13px;color:#66779c;transform:scaleX(0.9228);filter:blur(2.3px);">Rock Rita</span>
<span class="t" style="left:408.40px;top:774.40px;font-size:13px;line-height:13px;color:#666;transform:scaleX(0.9682);">no</span>
<span class="t" style="left:502.60px;top:774.40px;font-size:13px;line-height:13px;color:#12396e;transform:scaleX(0.9264);">OVER_Premium_B_-_25Mbps_with_26M/26M</span>
<span class="t" style="left:885.50px;top:774.40px;font-size:13px;line-height:13px;color:#666;transform:scaleX(0.9576);">275,603</span>
<span class="t" style="left:1010.90px;top:774.40px;font-size:13px;line-height:13px;color:#666;">50</span>
<span class="t" style="left:1140.00px;top:774.40px;font-size:13px;line-height:13px;color:#666;transform:scaleX(0.9739);">0.0</span>
<span class="t" style="left:1258.30px;top:774.40px;font-size:13px;line-height:13px;color:#666;transform:scaleX(0.9837);">2.248</span>
<span class="t" style="left:1389.00px;top:774.40px;font-size:13px;line-height:13px;color:#666;transform:scaleX(0.9644);">48.2</span>
<span class="t" style="left:1500.00px;top:774.40px;font-size:13px;line-height:13px;color:#666;transform:scaleX(0.9628);">7.8</span>
<span class="t" style="left:1575.00px;top:774.40px;font-size:13px;line-height:13px;color:#666;">n/a</span>
<span class="t" style="left:1726.00px;top:774.40px;font-size:13px;line-height:13px;color:#666;transform:scaleX(0.9420);">5%</span>
<span class="t" style="left:1863.00px;top:774.40px;font-size:13px;line-height:13px;color:#666;transform:scaleX(0.8993);">16%</span>
<span class="t" style="left:1964.00px;top:774.40px;font-size:13px;line-height:13px;color:#666;">0</span>
<span class="t" style="left:2038.80px;top:774.40px;font-size:13px;line-height:13px;color:#666;transform:scaleX(0.9787);">207:45:28</span>
<svg width="15" height="15" style="left:2117px;top:772px" viewBox="0 0 15 15"><rect x="0.3" y="0.3" width="14.4" height="14.4" rx="2" fill="#555"/><path d="M3 7.6 L6.1 10.6 L12 4.4" fill="none" stroke="#fff" stroke-width="1.7"/></svg>
<span class="t" style="left:43.00px;top:807.70px;font-size:13px;line-height:13px;color:#12396e;transform:scaleX(0.9028);">10.10.24.10</span>
<span class="t" style="left:143.00px;top:807.70px;font-size:13px;line-height:13px;color:#66779c;letter-spacing:0.711px;filter:blur(2.3px);">Ariella Cruz</span>
<span class="t" style="left:408.40px;top:807.70px;font-size:13px;line-height:13px;color:#666;transform:scaleX(0.9682);">no</span>
<span class="t" style="left:502.60px;top:807.70px;font-size:13px;line-height:13px;color:#12396e;transform:scaleX(0.9398);">Intermedia_A_-_5Mbps</span>
<span class="abs" style="left:1754px;top:798px;width:143px;height:30px;background:#cc0000"></span>
<span class="t" style="left:887.00px;top:807.70px;font-size:13px;line-height:13px;color:#666;transform:scaleX(0.9257);">219,186</span>
<span class="t" style="left:1010.90px;top:807.70px;font-size:13px;line-height:13px;color:#666;">66</span>
<span class="t" style="left:1133.60px;top:807.70px;font-size:13px;line-height:13px;color:#666;transform:scaleX(0.9485);">50.1</span>
<span class="t" style="left:1258.30px;top:807.70px;font-size:13px;line-height:13px;color:#666;transform:scaleX(0.9837);">6.839</span>
<span class="t" style="left:1389.00px;top:807.70px;font-size:13px;line-height:13px;color:#666;transform:scaleX(0.9644);">55.7</span>
<span class="t" style="left:1500.00px;top:807.70px;font-size:13px;line-height:13px;color:#666;transform:scaleX(0.9628);">9.7</span>
<span class="t" style="left:1564.00px;top:807.70px;font-size:13px;line-height:13px;color:#666;transform:scaleX(0.9787);">0.1%</span>
<span class="t" style="left:1719.20px;top:807.70px;font-size:13px;line-height:13px;color:#666;transform:scaleX(0.9416);">42%</span>
<span class="t" style="left:1861.90px;top:807.70px;font-size:13px;line-height:13px;color:#fff;transform:scaleX(0.9416);">42%</span>
<span class="t" style="left:1966.00px;top:807.70px;font-size:13px;line-height:13px;color:#666;transform:scaleX(0.7607);">1</span>
<span class="t" style="left:2038.80px;top:807.70px;font-size:13px;line-height:13px;color:#666;transform:scaleX(0.9787);">207:45:29</span>
<svg width="15" height="15" style="left:2117px;top:807px" viewBox="0 0 15 15"><rect x="0.3" y="0.3" width="14.4" height="14.4" rx="2" fill="#555"/><path d="M3 7.6 L6.1 10.6 L12 4.4" fill="none" stroke="#fff" stroke-width="1.7"/></svg>
</section>
</body></html>
